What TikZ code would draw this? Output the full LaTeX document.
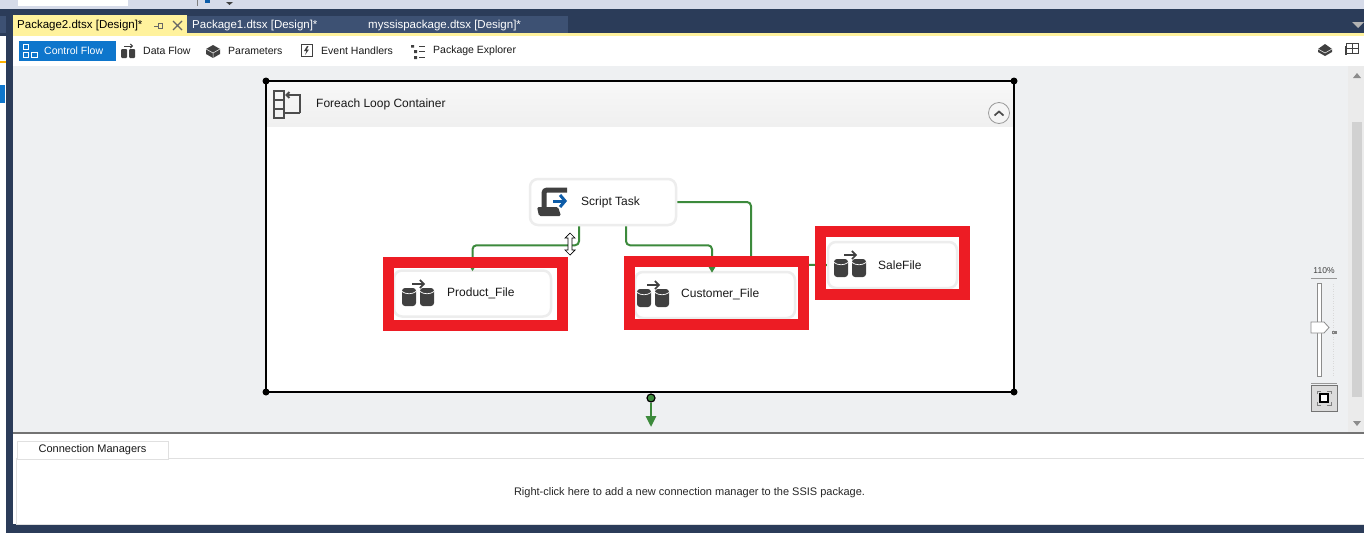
\documentclass[tikz,border=0pt]{standalone}
\usepackage{fontspec}
\setmainfont{Liberation Sans}
\usetikzlibrary{positioning, shapes.geometric, arrows.meta, calc}
\definecolor{navy}{HTML}{2B3C59}
\definecolor{tabblue}{HTML}{3D5173}
\definecolor{topstrip}{HTML}{D6DBE9}
\definecolor{tabyellow}{HTML}{FFF29D}
\definecolor{canvas}{HTML}{EEF0F2}
\definecolor{flowgreen}{HTML}{3C8A3C}
\definecolor{markred}{HTML}{ED1C24}
\definecolor{icongrey}{HTML}{404040}
\definecolor{buttonblue}{HTML}{0E76CC}
\definecolor{scriptblue}{HTML}{0D5CA8}
\tikzset{
  uitext/.style={font=\fontsize{12}{14}\selectfont, inner sep=0pt, anchor=west, text=black!90},
  bartext/.style={font=\fontsize{10.5}{13}\selectfont, inner sep=0pt, anchor=west, text=black!90},
  tabtext/.style={font=\fontsize{11.5}{13}\selectfont, inner sep=0pt, anchor=west},
  tasknode/.style={draw=black!7, line width=2.5pt, fill=white, rounded corners=8pt, minimum height=46pt, inner sep=0pt},
  flowline/.style={draw=flowgreen, line width=2pt, rounded corners=4pt},
  flowarrow/.style={flowline, -{Triangle[length=8pt, width=9pt]}},
  redmark/.style={draw=markred, line width=11pt},
  handle/.style={circle, fill=black, inner sep=0pt, minimum size=7pt},
  dbicon/.pic={
    \fill[icongrey, rounded corners=3pt] (0,0) rectangle (14,18);
    \fill[icongrey, rounded corners=3pt] (18,0) rectangle (32,18);
    \draw[white, line width=.7pt] (0,3.5) .. controls (4,6.5) and (10,6.5) .. (14,3.5);
    \draw[white, line width=.7pt] (18,3.5) .. controls (22,6.5) and (28,6.5) .. (32,3.5);
    \draw[icongrey, line width=1.6pt, -{Straight Barb[length=4pt, width=8pt]}] (10,-4) -- (23,-4);
  },
}
\begin{document}
\begin{tikzpicture}[x=1pt, y=-1pt]
  \useasboundingbox (0,0) rectangle (1364,533);
  % window
  \fill[navy] (0,0) rectangle (1364,533);
  \fill[topstrip] (0,0) rectangle (1364,9);
  \fill[white] (18,0) rectangle (128,6);
  \draw[black!50] (197,0) -- (197,6);
  \fill[icongrey] (226,2) -- (233,2) -- (229.5,5) -- cycle;
  \fill[scriptblue] (205,0) rectangle (210,3);
  \fill[tabblue] (0,16) rectangle (6,33);
  \fill[white] (0,36) rectangle (6,533);
  \fill[orange!60!yellow] (0,61) rectangle (6,63);
  \fill[buttonblue] (0,85) rectangle (5,103);
  \fill[tabblue] (187,16) rectangle (568,33);
  \fill[tabyellow] (13,33) rectangle (1364,36);
  \fill[tabyellow] (13,15) rectangle (187,36);
  \fill[white] (13,36) rectangle (1364,66);
  \fill[canvas] (13,66) rectangle (1364,433);
  \fill[black!8] (1348,66) rectangle (1364,433);
  \fill[black!18] (1352,122) rectangle (1362,397);
  \fill[black!45] (1353,78) -- (1361,78) -- (1357,73) -- cycle;
  \fill[black!45] (1353,421) -- (1361,421) -- (1357,426) -- cycle;
  \fill[white] (13,433) rectangle (1364,524);
  \draw[black!55, line width=2pt] (13,433) -- (1364,433);
  \draw[black!12] (16,524) -- (16,458) -- (1364,458) -- (1364,524) -- cycle;
  \fill[black!30!white] (1352,22) -- (1364,22) -- (1358,28) -- cycle;

  % tabs
  \node[tabtext, text=black] (tab2) at (17,26) {Package2.dtsx [Design]*};
  \node[tabtext, text=white] (tab1) at (192,26) {Package1.dtsx [Design]*};
  \node[tabtext, text=white] (tab3) at (368,26) {myssispackage.dtsx [Design]*};
  \draw[black!60, line width=1pt] (154,26) -- (158,26) (158,23.5) rectangle (162,28.5);
  \draw[black!60, line width=1.2pt] (173,21) -- (182,30) (182,21) -- (173,30);

  % toolbar
  \fill[buttonblue] (19,41) rectangle (116,61);
  \draw[white, line width=.8pt] (23,44) rectangle (28,49) (23,52) rectangle (28,57) (31,52) rectangle (37,57);
  \node[bartext, text=white] (controlflow) at (44,50.5) {Control Flow};
  \fill[icongrey, rounded corners=1pt] (121,49) rectangle (127,58) (129,49) rectangle (135,58);
  \draw[icongrey, line width=1pt, -{Straight Barb[length=2pt, width=4pt]}] (124,46) -- (133,46);
  \node[bartext] (dataflow) at (143,50.5) {Data Flow};
  \fill[icongrey] (206,49) -- (213,45) -- (220,49) -- (220,54) -- (213,58) -- (206,54) -- cycle;
  \draw[white, line width=.5pt] (206,49) -- (213,53) -- (220,49) (213,53) -- (213,58);
  \node[bartext] (parameters) at (228,50.5) {Parameters};
  \draw[icongrey, line width=1pt] (301,44.5) rectangle (312,56.5);
  \fill[icongrey] (307,46) -- (304,51) -- (306.5,51) -- (305,55) -- (309,49.5) -- (306.8,49.5) -- (308.5,46) -- cycle;
  \node[bartext] (eventhandlers) at (321,50.5) {Event Handlers};
  \fill[icongrey] (411,45) rectangle (414,47.5) (414,50) rectangle (417,53) (414,56) rectangle (417,59);
  \draw[icongrey, line width=1pt] (419,46) -- (425,46) (419,51.5) -- (425,51.5) (419,57.5) -- (425,57.5);
  \node[bartext] (packageexplorer) at (433,50.5) {Package Explorer};
  \fill[icongrey] (1318,49) -- (1325,44) -- (1332,49) -- (1332,52) -- (1325,56) -- (1318,52) -- cycle;
  \draw[white, line width=.5pt] (1318,49) -- (1325,53) -- (1332,49);
  \draw[icongrey, line width=1pt] (1346,43.5) rectangle (1358,53);
  \draw[icongrey, line width=.7pt] (1346,48) -- (1358,48) (1352,43.5) -- (1352,53);
  \fill[icongrey] (1345,46) rectangle (1347,55);

  % container
  \shade[top color=black!3, bottom color=black!6] (266,81) rectangle (1014,127);
  \fill[white] (266,127) rectangle (1014,392);
  \draw[black, line width=2.8pt] (266,81) rectangle (1014,392);
  \foreach \pos in {(266,81),(1014,81),(266,392),(1014,392)}
    \node[handle] at \pos {};
  \draw[black!70, line width=2pt] (274,91) rectangle (284,100) (274,100) rectangle (284,109) (274,109) rectangle (284,118);
  \draw[black!70, line width=2pt, -{Straight Barb[length=3pt, width=6pt]}] (300,113) -- (300,95) -- (285,95);
  \draw[black!70, line width=2pt] (300,113) -- (285,113);
  \node[uitext] (foreach) at (316,104.5) {Foreach Loop Container};
  \node[circle, draw=black!40, fill=black!4, line width=.8pt, minimum size=21pt, inner sep=0pt] (collapse) at (999,113) {};
  \draw[black!70, line width=1.7pt] (994.5,115.5) -- (999,111.5) -- (1003.5,115.5);

  % tasks
  \node[tasknode, minimum width=146pt] (script) at (603,202) {};
  \node[tasknode, minimum width=157pt] (product) at (472.5,293.5) {};
  \node[tasknode, minimum width=160pt] (customer) at (715,295) {};
  \node[tasknode, minimum width=129pt] (sale) at (892.5,265) {};
  \node[uitext] (scriptlabel) at (581,202) {Script Task};
  \node[uitext] (productlabel) at (447,293.5) {Product\_File};
  \node[uitext] (customerlabel) at (681,294.5) {Customer\_File};
  \node[uitext] (salelabel) at (878,265) {SaleFile};
  \pic at (402,288) {dbicon};
  \pic at (637,289) {dbicon};
  \pic at (834,259) {dbicon};
  % script icon
  \draw[icongrey, line width=5pt, rounded corners=3pt] (567,190) -- (544,190) -- (544,208);
  \fill[icongrey, rounded corners=1.5pt] (537,207) -- (558,207) -- (561,216) -- (539,216) -- cycle;
  \draw[scriptblue, line width=3pt, -{Straight Barb[length=5pt, width=12pt]}] (553,201) -- (567,201);

  % connectors
  \coordinate (salebend) at (751,264);
  \draw[flowarrow] ([xshift=-24pt]script.south) -- ++(0,19) -| ([yshift=-2pt]product.north);
  \draw[flowarrow] ([xshift=23pt]script.south) -- ++(0,19) -| ([xshift=-3pt, yshift=-2pt]customer.north);
  \draw[flowline] (script.east) -| (salebend) -- (sale.west);

  % red marks
  \draw[redmark] (388.5,262.5) rectangle (562.5,325.5);
  \draw[redmark] (629.5,261.5) rectangle (803.5,324.5);
  \draw[redmark] (820.5,231.5) rectangle (964.5,294.5);

  % cursor
  \draw[black, fill=white, line width=.7pt] (570,233) -- (575,238) -- (572,238) -- (572,250) -- (575,250) -- (570,255) -- (565,250) -- (568,250) -- (568,238) -- (565,238) -- cycle;

  % outgoing arrow
  \node[circle, draw=black, fill=flowgreen, line width=1.2pt, minimum size=8pt, inner sep=0pt] (outport) at (651,398) {};
  \coordinate (outend) at (651,427);
  \draw[flowline, line width=2.6pt, -{Triangle[length=11pt, width=10pt]}] (outport) -- (outend);

  % zoom slider
  \node[font=\fontsize{8.5}{10}\selectfont, inner sep=0pt, text=black!75] (zoomlabel) at (1324,271) {110\%};
  \draw[black!40] (1311,278) -- (1337,278) (1311,383) -- (1337,383);
  \draw[black!45, line width=.8pt, fill=white] (1317,283) rectangle (1321,376);
  \draw[black!45, line width=.8pt, fill=white] (1311,322) -- (1324,322) -- (1329,327.5) -- (1324,333) -- (1311,333) -- cycle;
  \fill[black!50] (1332,331) rectangle (1337,334);
  \draw[black!15, dotted] (1333,284) -- (1333,376);
  \node[draw=black!55, fill=black!14, line width=1pt, minimum size=26pt, inner sep=0pt] (fitbutton) at (1324,398) {};
  \draw[black!50, line width=1pt] (1317,394) |- (1321,391) (1327,391) -| (1331,394) (1331,402) |- (1327,405) (1321,405) -| (1317,402);
  \draw[black, fill=white, line width=1.2pt] (1320,394) rectangle (1328,402);

  % connection managers
  \node[draw=black!12, fill=white, minimum width=151pt, minimum height=18pt, inner sep=0pt, text=black!90, font=\fontsize{11}{13}\selectfont] (connmgr) at (92.5,450) {Connection Managers};
  \node[font=\fontsize{11}{13}\selectfont, inner sep=0pt, text=black!85] (connhint) at (689.5,492.5) {Right-click here to add a new connection manager to the SSIS package.};
\end{tikzpicture}
\end{document}
